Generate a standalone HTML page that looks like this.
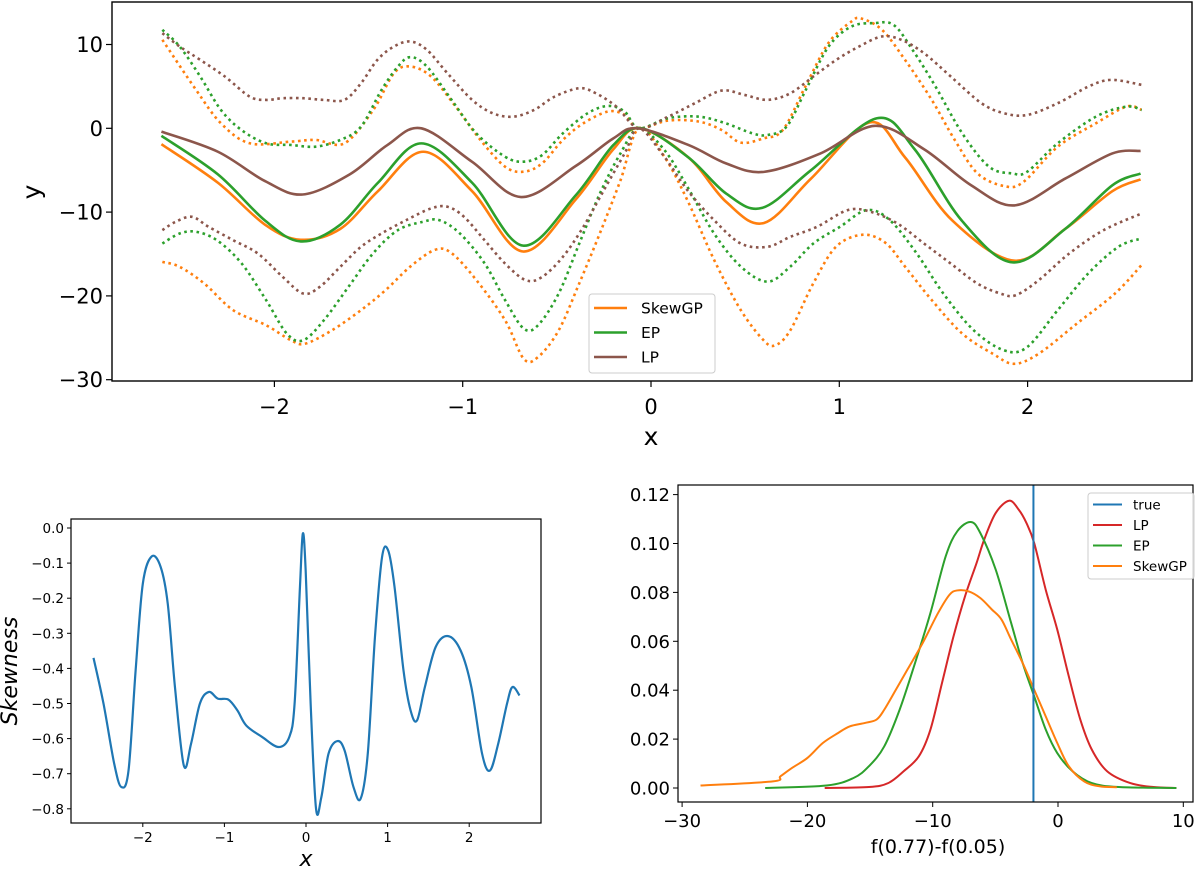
<!DOCTYPE html>
<html><head><meta charset="utf-8"><style>
html,body{margin:0;padding:0;background:#fff;}
svg{display:block;font-family:"DejaVu Sans","Liberation Sans",sans-serif;}
</style></head><body>
<svg id="fig" width="1200" height="869" viewBox="0 0 1200 869" xmlns="http://www.w3.org/2000/svg">
<rect x="0" y="0" width="1200" height="869" fill="#fff"/>
<g id="top"></g>
<g id="bl"></g>
<g id="br"></g>
</svg>
<script>
// ---------- top chart data ----------
const topXTicks=[-2,-1,0,1,2];
const topYTicks=[10,0,-10,-20,-30];
const skewMean=[[-2.6,-1.9],[-2.3,-6.5],[-2.05,-11.5],[-1.86,-13.3],[-1.65,-12],[-1.45,-7.5],[-1.21,-2.8],[-0.95,-7.5],[-0.68,-14.7],[-0.4,-8.5],[-0.2,-2.5],[-0.06,0],[0.2,-3.5],[0.4,-8.8],[0.6,-11.3],[0.85,-6],[1.16,0.7],[1.35,-3.5],[1.6,-11],[1.93,-15.8],[2.2,-12],[2.45,-7.5],[2.6,-6.1]];
const epMean=[[-2.6,-0.9],[-2.3,-5.5],[-2.05,-11],[-1.86,-13.5],[-1.65,-11.5],[-1.45,-6.5],[-1.22,-1.8],[-0.95,-6.5],[-0.68,-14],[-0.4,-8],[-0.2,-2],[-0.05,0],[0.2,-3.5],[0.4,-7.8],[0.59,-9.5],[0.85,-5],[1.2,1.2],[1.4,-2.5],[1.65,-11],[1.92,-16],[2.2,-12],[2.45,-6.8],[2.6,-5.4]];
const lpMean=[[-2.6,-0.4],[-2.3,-2.8],[-2.05,-6.3],[-1.85,-7.9],[-1.6,-5.5],[-1.4,-2],[-1.22,0],[-0.95,-4],[-0.69,-8.2],[-0.4,-4.5],[-0.2,-1.2],[-0.07,0],[0.2,-2],[0.4,-4.2],[0.6,-5.2],[0.9,-3],[1.19,0.3],[1.45,-2.5],[1.7,-6.8],[1.93,-9.2],[2.2,-6],[2.45,-3],[2.6,-2.7]];
const skewUpper=[[-2.595,10.56],[-2.416,4.58],[-2.284,0.6],[-2.131,-1.79],[-1.912,-1.59],[-1.781,-1.39],[-1.628,-1.79],[-1.475,2.19],[-1.365,6.57],[-1.278,7.37],[-1.168,6.18],[-1.037,2.59],[-0.906,-1.39],[-0.775,-4.58],[-0.676,-5.18],[-0.578,-4.18],[-0.468,-1.39],[-0.359,0.6],[-0.228,2.0],[-0.14,1.6],[-0.064,0],[0.091,0.92],[0.254,0.8],[0.375,-0.2],[0.477,-1.71],[0.598,-1.2],[0.70,-0.2],[0.82,5.0],[0.943,10.2],[1.065,12.75],[1.116,13.1],[1.227,11.75],[1.349,8.17],[1.491,3.39],[1.613,-1.39],[1.734,-5.38],[1.876,-6.9],[1.978,-6.4],[2.16,-2.2],[2.363,0.6],[2.525,2.6],[2.606,2.2]];
const skewLower=[[-2.595,-15.94],[-2.503,-16.53],[-2.372,-18.53],[-2.219,-21.7],[-2.044,-23.5],[-1.912,-25.3],[-1.836,-25.7],[-1.694,-24.1],[-1.54,-21.7],[-1.409,-19.3],[-1.278,-16.5],[-1.147,-14.5],[-1.059,-14.9],[-0.928,-18.1],[-0.775,-22.9],[-0.676,-27.5],[-0.60,-27.3],[-0.49,-24.1],[-0.381,-18.5],[-0.271,-12.5],[-0.162,-6.2],[-0.064,0],[0.071,-3.39],[0.193,-8.57],[0.335,-15.7],[0.477,-21.7],[0.598,-25.3],[0.659,-25.9],[0.74,-24.1],[0.862,-18.5],[0.984,-14.1],[1.126,-12.7],[1.247,-13.7],[1.349,-16.5],[1.491,-20.5],[1.653,-24.5],[1.815,-26.9],[1.927,-28.1],[2.059,-26.9],[2.262,-23.3],[2.465,-19.7],[2.606,-16.3]];
const epUpper=[[-2.595,11.75],[-2.503,9.76],[-2.394,6.18],[-2.284,2.19],[-2.175,-0.2],[-2.044,-1.79],[-1.912,-1.99],[-1.781,-2.19],[-1.65,-1.39],[-1.54,0.2],[-1.431,4.58],[-1.344,7.37],[-1.278,8.49],[-1.19,7.37],[-1.059,3.39],[-0.928,-0.6],[-0.775,-3.39],[-0.676,-3.98],[-0.578,-3.19],[-0.468,-0.6],[-0.337,1.79],[-0.228,2.67],[-0.14,1.99],[-0.064,0],[0.091,1.2],[0.254,1.39],[0.396,0.6],[0.538,-0.6],[0.619,-0.8],[0.72,0.2],[0.822,4.58],[0.943,9.76],[1.065,12.15],[1.187,12.55],[1.288,12.35],[1.389,9.36],[1.511,4.98],[1.653,-0.6],[1.795,-4.58],[1.917,-5.38],[1.998,-5.18],[2.16,-1.79],[2.363,1.39],[2.525,2.59],[2.606,2.19]];
const epLower=[[-2.595,-13.75],[-2.503,-12.55],[-2.416,-12.35],[-2.306,-13.35],[-2.175,-16.1],[-2.044,-20.5],[-1.934,-24.5],[-1.847,-25.3],[-1.737,-22.9],[-1.606,-18.9],[-1.475,-14.9],[-1.344,-12.15],[-1.212,-11.16],[-1.125,-10.96],[-1.015,-12.55],[-0.884,-16.1],[-0.775,-20.5],[-0.676,-23.9],[-0.6,-23.5],[-0.49,-19.7],[-0.381,-13.75],[-0.271,-7.77],[-0.162,-2.99],[-0.064,0],[0.071,-2.59],[0.193,-6.97],[0.335,-12.55],[0.477,-16.5],[0.619,-18.3],[0.74,-16.5],[0.862,-13.75],[1.004,-11.75],[1.146,-9.76],[1.268,-10.96],[1.41,-14.9],[1.552,-19.7],[1.714,-24.1],[1.876,-26.5],[1.998,-26.1],[2.16,-21.7],[2.323,-17.3],[2.485,-14.1],[2.606,-13.15]];
const lpUpper=[[-2.595,11.35],[-2.503,9.76],[-2.394,8.17],[-2.263,6.18],[-2.131,3.78],[-2.044,3.39],[-1.956,3.59],[-1.847,3.59],[-1.737,3.39],[-1.628,3.39],[-1.54,5.38],[-1.453,8.17],[-1.365,9.76],[-1.278,10.36],[-1.19,9.36],[-1.081,6.57],[-0.95,3.39],[-0.84,1.79],[-0.731,1.39],[-0.621,2.19],[-0.512,3.78],[-0.381,4.78],[-0.293,4.18],[-0.184,2.59],[-0.064,0],[0.091,1.39],[0.233,2.99],[0.375,4.5],[0.497,3.98],[0.619,3.39],[0.74,4.18],[0.862,6.18],[0.984,8.17],[1.105,9.76],[1.227,10.96],[1.329,10.56],[1.45,8.96],[1.592,6.18],[1.755,2.99],[1.876,1.79],[1.998,1.59],[2.16,2.99],[2.323,4.98],[2.444,5.78],[2.606,5.18]];
const lpLower=[[-2.595,-12.15],[-2.525,-11.16],[-2.438,-10.56],[-2.35,-11.75],[-2.219,-13.35],[-2.088,-14.94],[-1.956,-17.73],[-1.847,-19.72],[-1.759,-18.92],[-1.65,-16.53],[-1.54,-14.14],[-1.431,-12.55],[-1.3,-10.96],[-1.168,-9.56],[-1.081,-9.36],[-0.993,-10.56],[-0.884,-13.35],[-0.775,-16.14],[-0.665,-18.13],[-0.578,-17.73],[-0.468,-15.34],[-0.359,-11.75],[-0.25,-7.37],[-0.14,-2.99],[-0.064,0],[0.071,-3.39],[0.193,-7.37],[0.335,-10.96],[0.477,-13.75],[0.619,-14.14],[0.74,-12.95],[0.882,-11.75],[1.045,-9.76],[1.166,-9.96],[1.308,-11.35],[1.45,-13.75],[1.592,-16.14],[1.734,-18.53],[1.856,-19.72],[1.937,-19.92],[2.059,-18.13],[2.221,-14.94],[2.404,-12.15],[2.606,-10.16]];
const topLegendLabels=["SkewGP","EP","LP"];
// ---------- skewness chart data ----------
const skXTicks=[-2,-1,0,1,2];
const skYTicks=[0,-0.1,-0.2,-0.3,-0.4,-0.5,-0.6,-0.7,-0.8];
const skYTickLabels=["0.0","\u22120.1","\u22120.2","\u22120.3","\u22120.4","\u22120.5","\u22120.6","\u22120.7","\u22120.8"];
const skewness=[[-2.604,-0.37],[-2.481,-0.501],[-2.35,-0.672],[-2.263,-0.738],[-2.175,-0.691],[-2.088,-0.406],[-2.0,-0.159],[-1.891,-0.081],[-1.781,-0.111],[-1.694,-0.216],[-1.606,-0.453],[-1.497,-0.677],[-1.409,-0.615],[-1.3,-0.5],[-1.19,-0.467],[-1.081,-0.486],[-0.95,-0.489],[-0.84,-0.52],[-0.731,-0.563],[-0.534,-0.596],[-0.337,-0.624],[-0.206,-0.596],[-0.14,-0.501],[-0.074,-0.168],[-0.039,-0.016],[-0.004,-0.121],[0.057,-0.501],[0.123,-0.8],[0.188,-0.767],[0.276,-0.643],[0.385,-0.607],[0.473,-0.634],[0.582,-0.738],[0.67,-0.771],[0.757,-0.643],[0.845,-0.311],[0.932,-0.083],[1.007,-0.064],[1.085,-0.168],[1.195,-0.406],[1.282,-0.52],[1.361,-0.548],[1.457,-0.453],[1.589,-0.339],[1.742,-0.308],[1.895,-0.349],[2.026,-0.453],[2.158,-0.643],[2.254,-0.691],[2.355,-0.615],[2.464,-0.5],[2.53,-0.453],[2.617,-0.477]];
// ---------- density chart data ----------
const dXTicks=[-30,-20,-10,0,10];
const dYTicks=[0,0.02,0.04,0.06,0.08,0.10,0.12];
const dYTickLabels=["0.00","0.02","0.04","0.06","0.08","0.10","0.12"];
const trueValue=-1.96;
const lpDensity=[[-18.62,0],[-15.09,0.0004],[-13.56,0.002],[-12.33,0.0068],[-11.1,0.013],[-10.18,0.0239],[-9.26,0.0429],[-8.34,0.062],[-7.42,0.0784],[-6.5,0.092],[-5.89,0.1016],[-4.97,0.1125],[-3.9,0.1175],[-3.13,0.1138],[-2.52,0.1084],[-1.9,0.1002],[-0.98,0.0811],[-0.06,0.0648],[0.86,0.0457],[1.78,0.028],[2.7,0.0157],[3.93,0.0068],[5.77,0.002],[7.61,0.0004],[9.45,0]];
const epDensity=[[-23.37,0],[-18.47,0.001],[-16.32,0.0041],[-15.09,0.0089],[-13.87,0.017],[-12.64,0.032],[-11.41,0.0511],[-10.18,0.0716],[-8.96,0.0948],[-8.04,0.105],[-6.96,0.1088],[-6.2,0.1043],[-4.97,0.0893],[-3.74,0.0675],[-2.82,0.0511],[-1.9,0.0375],[-0.98,0.0239],[-0.06,0.0143],[1.17,0.0068],[2.7,0.002],[4.85,0.0004],[9.45,0]];
const skewDensity=[[-28.53,0.001],[-22.76,0.0027],[-22.15,0.0048],[-21.23,0.0082],[-20.0,0.0123],[-18.77,0.0184],[-17.55,0.0225],[-16.63,0.0252],[-15.4,0.0266],[-14.48,0.028],[-13.87,0.032],[-12.94,0.0402],[-12.02,0.0484],[-10.8,0.0593],[-9.57,0.0716],[-8.65,0.0791],[-8.04,0.0808],[-7.12,0.0804],[-6.2,0.0777],[-5.28,0.073],[-4.51,0.0689],[-3.74,0.0607],[-2.82,0.0511],[-1.9,0.0402],[-0.98,0.0293],[-0.06,0.0184],[0.86,0.0089],[2.09,0.0027],[3.31,0.0007],[4.69,0.0003]];
const dLegendLabels=["true","LP","EP","SkewGP"];

const NS="http://www.w3.org/2000/svg";
function mk(parent,tag,attrs,text){const e=document.createElementNS(NS,tag);for(const k in attrs)e.setAttribute(k,attrs[k]);if(text!==undefined)e.textContent=text;parent.appendChild(e);return e;}
function smooth(pts){ // Catmull-Rom to bezier
  let d="M"+pts[0][0].toFixed(2)+","+pts[0][1].toFixed(2);
  for(let i=0;i<pts.length-1;i++){
    const p0=pts[i-1]||pts[i],p1=pts[i],p2=pts[i+1],p3=pts[i+2]||p2;
    const c1=[p1[0]+(p2[0]-p0[0])/6,p1[1]+(p2[1]-p0[1])/6];
    const c2=[p2[0]-(p3[0]-p1[0])/6,p2[1]-(p3[1]-p1[1])/6];
    d+="C"+c1[0].toFixed(2)+","+c1[1].toFixed(2)+" "+c2[0].toFixed(2)+","+c2[1].toFixed(2)+" "+p2[0].toFixed(2)+","+p2[1].toFixed(2);
  }
  return d;
}
function fmt(v){return (v<0?"\u2212":"")+Math.abs(v);}
const C={orange:"#ff7f0e",green:"#2ca02c",brown:"#8c564b",red:"#d62728",blue:"#1f77b4"};

// ---------- TOP ----------
(function(){
  const g=document.getElementById('top');
  const L=112,R=1192,T=2,B=381;
  const xs=v=>651+v*188.3, ys=v=>128.3-v*8.38;
  const series=[[skewUpper,C.orange,1,'skewgp-upper-bound'],[skewLower,C.orange,1,'skewgp-lower-bound'],[epUpper,C.green,1,'ep-upper-bound'],[epLower,C.green,1,'ep-lower-bound'],[lpUpper,C.brown,1,'lp-upper-bound'],[lpLower,C.brown,1,'lp-lower-bound'],[skewMean,C.orange,0,'skewgp-mean-line'],[epMean,C.green,0,'ep-mean-line'],[lpMean,C.brown,0,'lp-mean-line']];
  series.forEach(s=>{
    const p=mk(g,'path',{d:smooth(s[0].map(q=>[xs(q[0]),ys(q[1])])),fill:'none',stroke:s[1],'stroke-width':s[2]?2.6:2.6,'stroke-dasharray':s[2]?'2.6,3.6':'none','stroke-linejoin':'round'});
    
    
  });
  const ax=mk(g,'rect',{x:L,y:T,width:R-L,height:B-T,fill:'none',stroke:'#000','stroke-width':1.4});
  
  topXTicks.forEach(v=>{const x=xs(v);mk(g,'line',{x1:x,x2:x,y1:B,y2:B+6,stroke:'#000','stroke-width':1.2});
    const t=mk(g,'text',{x:x,y:B+33,'font-size':21,'text-anchor':'middle',fill:'#000'},fmt(v));
    });
  topYTicks.forEach(v=>{const y=ys(v);mk(g,'line',{x1:L-6,x2:L,y1:y,y2:y,stroke:'#000','stroke-width':1.2});
    const t=mk(g,'text',{x:L-9,y:y+7.5,'font-size':21,'text-anchor':'end',fill:'#000'},fmt(v));
    });
  const xl=mk(g,'text',{x:651,y:445,'font-size':25,'text-anchor':'middle'},'x');
  
  const yl=mk(g,'text',{x:0,y:0,'font-size':25,'text-anchor':'middle',transform:'translate(40,192) rotate(-90)'},'y');
  
  const lg=mk(g,'g',{});
  
  mk(lg,'rect',{x:589,y:294,width:126,height:79,rx:3,fill:'#fff','fill-opacity':0.85,stroke:'#ccc','stroke-width':1});
  const lc=[C.orange,C.green,C.brown];
  topLegendLabels.forEach((lab,i)=>{const y=308+i*24.5;
    mk(lg,'line',{x1:594,x2:627,y1:y,y2:y,stroke:lc[i],'stroke-width':2.6});
    const t=mk(lg,'text',{x:641,y:y+5.5,'font-size':15.5},lab);
    });
})();

// ---------- BOTTOM LEFT ----------
(function(){
  const g=document.getElementById('bl');
  const L=71,R=541,T=519,B=823;
  const xs=v=>306+v*81.6, ys=v=>528-v*351;
  const p=mk(g,'path',{d:smooth(skewness.map(q=>[xs(q[0]),ys(q[1])])),fill:'none',stroke:C.blue,'stroke-width':2.2});
  
  const ax=mk(g,'rect',{x:L,y:T,width:R-L,height:B-T,fill:'none',stroke:'#000','stroke-width':1.2});
  
  skXTicks.forEach(v=>{const x=xs(v);mk(g,'line',{x1:x,x2:x,y1:B,y2:B+4,stroke:'#000','stroke-width':1});
    const t=mk(g,'text',{x:x,y:B+19,'font-size':13.5,'text-anchor':'middle'},fmt(v));
    });
  skYTicks.forEach((v,i)=>{const y=ys(v);mk(g,'line',{x1:L-4,x2:L,y1:y,y2:y,stroke:'#000','stroke-width':1});
    const t=mk(g,'text',{x:L-7,y:y+5,'font-size':13.5,'text-anchor':'end'},skYTickLabels[i]);
    });
  const xl=mk(g,'text',{x:306,y:866,'font-size':22,'font-style':'italic','text-anchor':'middle'},'x');
  
  const yl=mk(g,'text',{x:0,y:0,'font-size':22,'font-style':'italic','text-anchor':'middle',transform:'translate(17,671) rotate(-90)'},'Skewness');
  
})();

// ---------- BOTTOM RIGHT ----------
(function(){
  const g=document.getElementById('br');
  const L=678,R=1193,T=485,B=802;
  const xs=v=>1058+v*12.53, ys=v=>788-v*2445;
  const series=[[lpDensity,C.red,'lp-density-line'],[epDensity,C.green,'ep-density-line'],[skewDensity,C.orange,'skewgp-density-line']];
  series.forEach(s=>{const p=mk(g,'path',{d:smooth(s[0].map(q=>[xs(q[0]),ys(q[1])])),fill:'none',stroke:s[1],'stroke-width':2});
    });
  const tl=mk(g,'line',{x1:xs(trueValue),x2:xs(trueValue),y1:T,y2:B,stroke:C.blue,'stroke-width':2});
  
  const ax=mk(g,'rect',{x:L,y:T,width:R-L,height:B-T,fill:'none',stroke:'#000','stroke-width':1.2});
  
  dXTicks.forEach(v=>{const x=xs(v);mk(g,'line',{x1:x,x2:x,y1:B,y2:B+5,stroke:'#000','stroke-width':1});
    const t=mk(g,'text',{x:x,y:B+25,'font-size':18,'text-anchor':'middle'},fmt(v));
    });
  dYTicks.forEach((v,i)=>{const y=ys(v);mk(g,'line',{x1:L-5,x2:L,y1:y,y2:y,stroke:'#000','stroke-width':1});
    const t=mk(g,'text',{x:L-8,y:y+6.5,'font-size':18,'text-anchor':'end'},dYTickLabels[i]);
    });
  const xl=mk(g,'text',{x:938,y:853,'font-size':19,'text-anchor':'middle'},'f(0.77)-f(0.05)');
  
  const lg=mk(g,'g',{});
  
  mk(lg,'rect',{x:1088,y:493,width:106,height:86,rx:3,fill:'#fff','fill-opacity':0.85,stroke:'#ccc','stroke-width':1});
  const lc=[C.blue,C.red,C.green,C.orange];
  dLegendLabels.forEach((lab,i)=>{const y=504.5+i*20.5;
    mk(lg,'line',{x1:1093,x2:1122,y1:y,y2:y,stroke:lc[i],'stroke-width':2});
    const t=mk(lg,'text',{x:1133,y:y+5,'font-size':13.5},lab);
    });
})();
</script>
</body></html>
